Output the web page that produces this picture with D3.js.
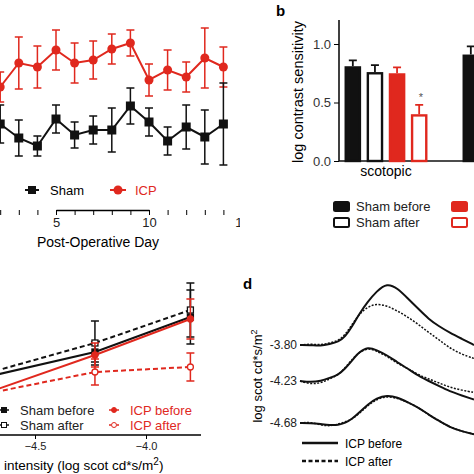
<!DOCTYPE html>
<html><head><meta charset="utf-8">
<script src="https://cdn.jsdelivr.net/npm/d3@7"></script>
<style>body{margin:0;background:#fff}svg{font-family:"Liberation Sans",Arial,sans-serif}</style>
</head><body><svg id="c" width="474" height="474"></svg>
<script>
var RED = '#e0281e'
// panel a
var days = [2,3,4,5,6,7,8,9,10,11,12,13,14]
var icpMean = [1.23,1.47,1.43,1.60,1.47,1.50,1.61,1.67,1.30,1.40,1.33,1.52,1.43]
var icpErr = [0.15,0.26,0.21,0.20,0.20,0.19,0.15,0.13,0.16,0.20,0.15,0.30,0.20]
var shamMean = [0.86,0.72,0.64,0.91,0.75,0.80,0.80,1.04,0.88,0.69,0.83,0.73,0.86]
var shamErr = [0.19,0.18,0.10,0.14,0.13,0.14,0.22,0.18,0.14,0.14,0.22,0.27,0.41]
var dayTicks = [5,10,15]
// panel b
var bConds = ['scotopic','photopic']
var bGroups = ['Sham before','Sham after','ICP before','ICP after']
var bMean = [[0.81,0.76,0.75,0.40],[0.91,0.85,0.80,0.60]]
var bErr = [[0.05,0.06,0.05,0.08],[0.07,0.06,0.05,0.07]]
// panel c
var intensities = [-4.68,-4.23,-3.80]
var cSeries = ['Sham before','Sham after','ICP before','ICP after']
var cMean = [[60,83,118],[64,92,125],[45,80,116],[43,63,68]]
var cErr = [[8,10,27],[8,22,27],[8,12,20],[8,13,14]]
// panel d (amplitude samples over time, before / after)
var dLevels = ['-3.80','-4.23','-4.68']
var dTime = [0,6,12,17,22,26,30,34,39,44,50,56,62,68,74,80,86,93,100]
var dBefore = [
 [0,0,-1,1,3,8,18,30,42,52,60,55,45,35,25,18,12,6,0],
 [0,-1,0,3,6,12,20,28,33,30,25,18,12,5,0,-5,-10,-14,-18],
 [0,0,-1,-2,-2,0,4,10,18,24,27,25,20,15,8,2,-4,-8,-11]]
var dAfter = [
 [0,1,0,2,4,10,20,30,37,40,38,33,27,20,12,5,-3,-9,-13],
 [0,-3,-2,2,6,13,21,28,32,29,24,17,12,6,2,-2,-6,-9,-11],
 [0,1,-2,-3,-1,1,4,9,17,23,26,24,20,15,8,2,-4,-8,-11]]

var svg = d3.select('#c')

// ---- a
var ga = svg.append('g')
ga.append('clipPath').attr('id','ca').append('rect').attr('width',240).attr('height',260)
var pa = ga.append('g').attr('clip-path','url(#ca)')
var xa = d3.scaleLinear().domain([5,10]).range([56,149])
var ya = d3.scaleLinear().domain([0,2]).range([210,10])
pa.append('g').attr('transform','translate(0,210)')
  .call(d3.axisBottom(xa).tickValues(d3.range(1,16)).tickFormat(d => dayTicks.includes(d) ? d : '').tickSize(5).tickSizeOuter(0))
  .call(g => { g.select('.domain').attr('stroke-width',1.5); g.selectAll('text').attr('font-size',13).attr('fill','#222') })
function series(g, xs, m, e, color, x, y, dash) {
  g.append('path').attr('fill','none').attr('stroke',color).attr('stroke-width',2).attr('stroke-dasharray',dash||null)
    .attr('d', d3.line().x((d,i) => x(xs[i])).y(d => y(d))(m))
  xs.forEach((v,i) => {
    var cx = x(v)
    g.append('path').attr('stroke',color).attr('stroke-width',1.5)
      .attr('d', `M${cx},${y(m[i]+e[i])}V${y(m[i]-e[i])}M${cx-4},${y(m[i]+e[i])}h8M${cx-4},${y(m[i]-e[i])}h8`)
  })
}
series(pa, days, icpMean, icpErr, RED, xa, ya)
series(pa, days, shamMean, shamErr, '#111', xa, ya)
days.forEach((d,i) => {
  pa.append('circle').attr('cx',xa(d)).attr('cy',ya(icpMean[i])).attr('r',4.5).attr('fill',RED)
  pa.append('rect').attr('x',xa(d)-4.5).attr('y',ya(shamMean[i])-4.5).attr('width',9).attr('height',9).attr('fill','#111')
})
pa.append('path').attr('d','M25,190h14').attr('stroke','#111').attr('stroke-width',2)
pa.append('rect').attr('x',28).attr('y',186).attr('width',8).attr('height',8).attr('fill','#111')
pa.append('text').attr('x',50).attr('y',195).attr('font-size',13).text('Sham')
pa.append('path').attr('d','M110,190h16').attr('stroke',RED).attr('stroke-width',2)
pa.append('circle').attr('cx',118).attr('cy',190).attr('r',4.5).attr('fill',RED)
pa.append('text').attr('x',135).attr('y',195).attr('font-size',13).attr('fill',RED).text('ICP')
pa.append('text').attr('x',98).attr('y',247).attr('text-anchor','middle').attr('font-size',14).text('Post-Operative Day')

// ---- b
var gb = svg.append('g')
var yb = d3.scaleLinear().domain([0,1]).range([161,44])
var xin = d3.scaleBand().domain(bGroups).range([0,94]).padding(0.25)
gb.append('g').attr('transform','translate(339,0)')
  .call(d3.axisLeft(yb).tickValues([0,0.5,1]).tickFormat(d3.format('.1f')).tickSize(5).tickSizeOuter(0))
  .call(g => { g.select('.domain').attr('d','M0,20V161').attr('stroke-width',1.5); g.selectAll('text').attr('font-size',13).attr('fill','#333') })
gb.append('path').attr('d','M339,161H474').attr('stroke','#111').attr('stroke-width',1.5)
bConds.forEach((c,ci) => {
  var x0 = 339 + ci*118
  bGroups.forEach((g,gi) => {
    var col = gi < 2 ? '#111' : RED, filled = gi % 2 == 0
    var bx = x0 + xin(g), w = xin.bandwidth(), v = bMean[ci][gi]
    var cx = bx + w/2, top = yb(v+bErr[ci][gi])
    gb.append('path').attr('stroke',col).attr('stroke-width',1.8)
      .attr('d',`M${cx},${yb(v)}V${top}M${cx-4},${top}h8`)
    gb.append('rect').attr('x',bx+1.2).attr('y',yb(v)+1.2).attr('width',w-2.4).attr('height',161-yb(v)-1.2)
      .attr('fill',filled ? col : '#fff').attr('stroke',col).attr('stroke-width',2.4)
  })
  gb.append('text').attr('x',x0+47).attr('y',176).attr('text-anchor','middle').attr('font-size',14).text(c)
})
gb.append('text').attr('x',421).attr('y',101).attr('text-anchor','middle').attr('font-size',11).attr('fill','#555').text('*')
gb.append('text').attr('transform','translate(303,92) rotate(-90)').attr('text-anchor','middle').attr('font-size',14.5).text('log contrast sensitivity')
gb.append('text').attr('x',276).attr('y',16).attr('font-size',15).attr('font-weight','bold').text('b')
bGroups.forEach((g,gi) => {
  var col = gi < 2 ? '#111' : RED, filled = gi % 2 == 0
  var lx = gi < 2 ? 334 : 452, ly = gi % 2 == 0 ? 202 : 218
  gb.append('rect').attr('x',lx).attr('y',ly).attr('width',15).attr('height',9).attr('rx',1.5)
    .attr('fill',filled ? col : '#fff').attr('stroke',col).attr('stroke-width',2)
  gb.append('text').attr('x',lx+22).attr('y',ly+9).attr('font-size',13).attr('fill','#222').text(g)
})

// ---- c
var gc = svg.append('g')
var xc = d3.scaleLinear().domain([-4.5,-4.0]).range([35,146])
var yc = d3.scaleLinear().domain([0,180]).range([435,255])
gc.append('g').attr('transform','translate(0,435)')
  .call(d3.axisBottom(xc).tickValues([-4.5,-4.0]).tickFormat(d3.format('.1f')).tickSize(4).tickSizeOuter(0))
  .call(g => { g.select('.domain').attr('d','M0,0H201').attr('stroke-width',1.5); g.selectAll('text').attr('font-size',11).attr('fill','#222') })
var cStyle = [['#111',null],['#111','5,3'],[RED,null],[RED,'5,3']]
cSeries.forEach((s,si) => {
  var col = cStyle[si][0]
  series(gc, intensities, cMean[si], cErr[si], col, xc, yc, cStyle[si][1])
  intensities.forEach((v,i) => {
    var cx = xc(v), cy = yc(cMean[si][i])
    if (si < 2) gc.append('rect').attr('x',cx-3).attr('y',cy-3).attr('width',6).attr('height',6).attr('fill',si ? '#fff' : col).attr('stroke',col).attr('stroke-width',1.3)
    else gc.append('circle').attr('cx',cx).attr('cy',cy).attr('r',3).attr('fill',si == 2 ? col : '#fff').attr('stroke',col).attr('stroke-width',1.3)
  })
  var lx = si < 2 ? 4 : 114, ly = si % 2 == 0 ? 410 : 425
  gc.append('path').attr('d',`M${lx-5},${ly}h10`).attr('stroke',col).attr('stroke-width',1.5).attr('stroke-dasharray',si % 2 ? '2,2' : null)
  if (si < 2) gc.append('rect').attr('x',lx-2.5).attr('y',ly-2.5).attr('width',5).attr('height',5).attr('fill',si ? '#fff' : col).attr('stroke',col)
  else gc.append('circle').attr('cx',lx).attr('cy',ly).attr('r',2.5).attr('fill',si == 2 ? col : '#fff').attr('stroke',col)
  gc.append('text').attr('x',lx+16).attr('y',ly+5).attr('font-size',13).attr('fill',si < 2 ? '#222' : RED).text(s)
})
var ct = gc.append('text').attr('x',4).attr('y',470).attr('font-size',13.5).text('intensity (log scot cd*s/m')
ct.append('tspan').attr('dy',-5).attr('font-size',10).text('2')
ct.append('tspan').attr('dy',5).text(')')

// ---- d
var gd = svg.append('g')
var xd = d3.scaleLinear().domain([0,100]).range([300,474])
var base = [345,381,423]
dLevels.forEach((lv,li) => {
  var yd = d3.scaleLinear().domain([0,60]).range([base[li], base[li]-62])
  var ln = d3.line().curve(d3.curveBasis).x((d,i) => xd(dTime[i])).y(d => yd(d))
  gd.append('path').attr('d',ln(dBefore[li])).attr('fill','none').attr('stroke','#111').attr('stroke-width',2)
  gd.append('path').attr('d',ln(dAfter[li])).attr('fill','none').attr('stroke','#111').attr('stroke-width',1.5).attr('stroke-dasharray','2,1.5')
  gd.append('text').attr('x',297).attr('y',base[li]+4).attr('text-anchor','end').attr('font-size',12).attr('fill','#222').text(lv)
})
gd.append('text').attr('x',243).attr('y',289).attr('font-size',15).attr('font-weight','bold').text('d')
var dl = gd.append('text').attr('transform','translate(262,376) rotate(-90)').attr('text-anchor','middle').attr('font-size',13).text('log scot cd*s/m')
dl.append('tspan').attr('dy',-5).attr('font-size',9).text('2')
gd.append('path').attr('d','M302,443h36').attr('stroke','#111').attr('stroke-width',2.5)
gd.append('path').attr('d','M302,461h36').attr('stroke','#111').attr('stroke-width',2.5).attr('stroke-dasharray','4,2.5')
gd.append('text').attr('x',345).attr('y',448).attr('font-size',12).text('ICP before')
gd.append('text').attr('x',345).attr('y',466).attr('font-size',12).text('ICP after')
</script></body></html>
